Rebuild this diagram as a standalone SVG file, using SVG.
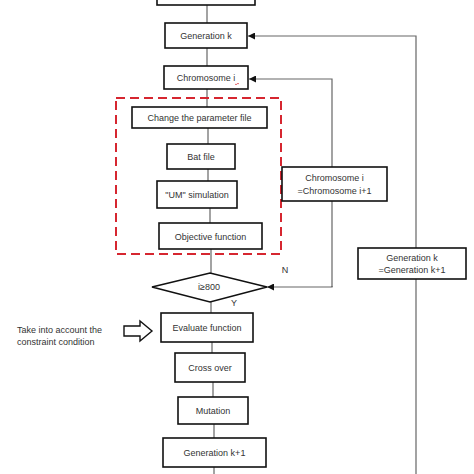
<svg xmlns="http://www.w3.org/2000/svg" width="474" height="474" viewBox="0 0 474 474">
<style>
.box{fill:#fff;stroke:#111;stroke-width:1.6}
.t{font-family:"Liberation Sans",Arial,sans-serif;font-size:9px;fill:#333;text-anchor:middle}
.c{stroke:#666;stroke-width:1.2;fill:none}
</style>
<defs>
<marker id="ah" viewBox="0 0 10 10" refX="10" refY="5" markerWidth="7" markerHeight="7" orient="auto" markerUnits="userSpaceOnUse">
<path d="M0,0 L10,5 L0,10 z" fill="#111"/>
</marker>
</defs>
<rect width="474" height="474" fill="#fff"/>
<g id="connectors">
<line class="c" x1="207" y1="5" x2="207" y2="23"/>
<line class="c" x1="207" y1="48" x2="207" y2="66"/>
<line class="c" x1="207" y1="89" x2="207" y2="107"/>
<line class="c" x1="208" y1="128" x2="208" y2="144"/>
<line class="c" x1="208" y1="169" x2="208" y2="181"/>
<line class="c" x1="210" y1="208" x2="210" y2="223"/>
<line class="c" x1="211" y1="249" x2="211" y2="273"/>
<line class="c" x1="211" y1="302" x2="211" y2="313"/>
<line class="c" x1="212" y1="342" x2="212" y2="353"/>
<line class="c" x1="213" y1="382" x2="213" y2="397"/>
<line class="c" x1="214" y1="424" x2="214" y2="438"/>
<line class="c" x1="214" y1="467" x2="214" y2="474"/>
<polyline class="c" points="416,474 416,36 248,36" marker-end="url(#ah)"/>
<polyline class="c" points="332,287 332,79 249,79" marker-end="url(#ah)"/>
<polyline class="c" points="332,286 332,287 267,287" marker-end="url(#ah)"/>
</g>
<rect x="116" y="98" width="165" height="156" fill="none" stroke="#d62630" stroke-width="2" stroke-dasharray="9,5"/>
<g id="top"><rect class="box" x="157" y="-5" width="98" height="10"/></g>
<g id="genk"><rect class="box" x="165" y="23" width="82" height="25"/><text class="t" x="206" y="39">Generation k</text></g>
<g id="chrom"><rect class="box" x="164" y="66" width="84" height="23"/><text class="t" x="206" y="81">Chromosome i</text><path d="M235,84 q1,1.5 2,0 q1,-1.5 2,0" stroke="#d62630" stroke-width="0.7" fill="none"/></g>
<g id="param"><rect class="box" x="132" y="107" width="135" height="21"/><text class="t" x="199.5" y="121">Change the parameter file</text></g>
<g id="bat"><rect class="box" x="167" y="144" width="68" height="25"/><text class="t" x="201" y="160">Bat file</text></g>
<g id="um"><rect class="box" x="157" y="181" width="80" height="27"/><text class="t" x="197" y="198">"UM" simulation</text></g>
<g id="obj"><rect class="box" x="159" y="223" width="103" height="26"/><text class="t" x="210.5" y="240">Objective function</text></g>
<g id="chromnext"><rect class="box" x="282" y="167" width="105" height="34"/><text class="t" x="334.5" y="181">Chromosome i</text><text class="t" x="334.5" y="194">=Chromosome i+1</text></g>
<g id="gennext"><rect class="box" x="358" y="248" width="108" height="31"/><text class="t" x="412" y="261">Generation k</text><text class="t" x="412" y="273">=Generation k+1</text></g>
<g id="decision"><polygon class="box" points="152,287 210,273 267,287 210,302"/><text class="t" x="209" y="290">i≥800</text></g>
<text class="t" x="234" y="306">Y</text>
<text class="t" x="285" y="273">N</text>
<g id="eval"><rect class="box" x="161" y="313" width="92" height="29"/><text class="t" x="207" y="331">Evaluate function</text></g>
<g id="note"><text class="t" x="17" y="333" style="text-anchor:start">Take into account the</text><text class="t" x="17" y="345" style="text-anchor:start">constraint condition</text>
<polygon points="124,326 140,326 140,321 152,331 140,341 140,336 124,336" fill="#fff" stroke="#111" stroke-width="1.4"/></g>
<g id="cross"><rect class="box" x="175" y="353" width="70" height="29"/><text class="t" x="210" y="371">Cross over</text></g>
<g id="mut"><rect class="box" x="178" y="397" width="70" height="27"/><text class="t" x="213" y="414">Mutation</text></g>
<g id="genk1"><rect class="box" x="163" y="438" width="103" height="29"/><text class="t" x="214.5" y="456">Generation k+1</text></g>
</svg>
